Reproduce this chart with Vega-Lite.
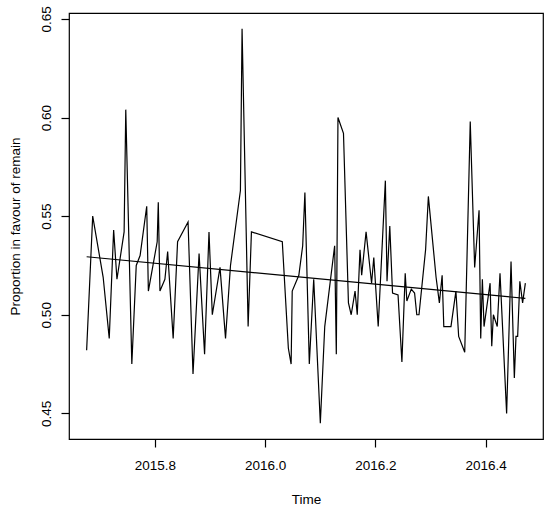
{
  "$schema": "https://vega.github.io/schema/vega-lite/v6.json",
  "width": 474,
  "height": 426,
  "autosize": {"type": "none"},
  "padding": {"left": 69, "top": 13, "right": 7, "bottom": 68},
  "background": "white",
  "config": {
    "font": "Liberation Sans",
    "view": {"stroke": "black", "strokeWidth": 1.2},
    "axis": {
      "grid": false,
      "domain": false,
      "tickColor": "black",
      "tickSize": 8,
      "tickWidth": 1.2,
      "labelColor": "black",
      "labelFontSize": 13.5,
      "labelFont": "Liberation Sans",
      "titleColor": "black",
      "titleFontSize": 13.5,
      "titleFontWeight": "normal",
      "titleFont": "Liberation Sans"
    }
  },
  "datasets": {
    "polls": [
      {"time": 2015.676, "share": 0.482},
      {"time": 2015.687, "share": 0.550},
      {"time": 2015.706, "share": 0.519},
      {"time": 2015.717, "share": 0.488},
      {"time": 2015.725, "share": 0.543},
      {"time": 2015.731, "share": 0.518},
      {"time": 2015.744, "share": 0.542},
      {"time": 2015.747, "share": 0.604},
      {"time": 2015.758, "share": 0.475},
      {"time": 2015.766, "share": 0.525},
      {"time": 2015.773, "share": 0.530},
      {"time": 2015.785, "share": 0.555},
      {"time": 2015.788, "share": 0.512},
      {"time": 2015.804, "share": 0.537},
      {"time": 2015.806, "share": 0.557},
      {"time": 2015.809, "share": 0.512},
      {"time": 2015.818, "share": 0.518},
      {"time": 2015.823, "share": 0.532},
      {"time": 2015.833, "share": 0.488},
      {"time": 2015.841, "share": 0.537},
      {"time": 2015.860, "share": 0.547},
      {"time": 2015.869, "share": 0.470},
      {"time": 2015.880, "share": 0.531},
      {"time": 2015.890, "share": 0.480},
      {"time": 2015.898, "share": 0.542},
      {"time": 2015.904, "share": 0.500},
      {"time": 2015.918, "share": 0.524},
      {"time": 2015.928, "share": 0.488},
      {"time": 2015.937, "share": 0.525},
      {"time": 2015.955, "share": 0.563},
      {"time": 2015.958, "share": 0.645},
      {"time": 2015.969, "share": 0.494},
      {"time": 2015.975, "share": 0.542},
      {"time": 2016.031, "share": 0.537},
      {"time": 2016.042, "share": 0.483},
      {"time": 2016.047, "share": 0.475},
      {"time": 2016.049, "share": 0.512},
      {"time": 2016.061, "share": 0.520},
      {"time": 2016.068, "share": 0.535},
      {"time": 2016.072, "share": 0.562},
      {"time": 2016.080, "share": 0.475},
      {"time": 2016.088, "share": 0.518},
      {"time": 2016.100, "share": 0.445},
      {"time": 2016.108, "share": 0.494},
      {"time": 2016.126, "share": 0.535},
      {"time": 2016.129, "share": 0.480},
      {"time": 2016.132, "share": 0.600},
      {"time": 2016.142, "share": 0.592},
      {"time": 2016.151, "share": 0.506},
      {"time": 2016.156, "share": 0.500},
      {"time": 2016.163, "share": 0.512},
      {"time": 2016.167, "share": 0.500},
      {"time": 2016.172, "share": 0.533},
      {"time": 2016.175, "share": 0.520},
      {"time": 2016.183, "share": 0.542},
      {"time": 2016.193, "share": 0.516},
      {"time": 2016.197, "share": 0.529},
      {"time": 2016.205, "share": 0.494},
      {"time": 2016.218, "share": 0.568},
      {"time": 2016.221, "share": 0.517},
      {"time": 2016.226, "share": 0.545},
      {"time": 2016.231, "share": 0.511},
      {"time": 2016.241, "share": 0.510},
      {"time": 2016.248, "share": 0.476},
      {"time": 2016.254, "share": 0.521},
      {"time": 2016.257, "share": 0.507},
      {"time": 2016.265, "share": 0.513},
      {"time": 2016.271, "share": 0.511},
      {"time": 2016.275, "share": 0.500},
      {"time": 2016.279, "share": 0.500},
      {"time": 2016.291, "share": 0.533},
      {"time": 2016.296, "share": 0.560},
      {"time": 2016.310, "share": 0.519},
      {"time": 2016.316, "share": 0.506},
      {"time": 2016.321, "share": 0.520},
      {"time": 2016.324, "share": 0.494},
      {"time": 2016.337, "share": 0.494},
      {"time": 2016.346, "share": 0.512},
      {"time": 2016.351, "share": 0.489},
      {"time": 2016.362, "share": 0.481},
      {"time": 2016.372, "share": 0.598},
      {"time": 2016.380, "share": 0.524},
      {"time": 2016.388, "share": 0.553},
      {"time": 2016.391, "share": 0.488},
      {"time": 2016.394, "share": 0.518},
      {"time": 2016.397, "share": 0.494},
      {"time": 2016.408, "share": 0.516},
      {"time": 2016.411, "share": 0.484},
      {"time": 2016.414, "share": 0.500},
      {"time": 2016.421, "share": 0.494},
      {"time": 2016.426, "share": 0.521},
      {"time": 2016.438, "share": 0.450},
      {"time": 2016.446, "share": 0.527},
      {"time": 2016.452, "share": 0.468},
      {"time": 2016.455, "share": 0.489},
      {"time": 2016.458, "share": 0.489},
      {"time": 2016.462, "share": 0.517},
      {"time": 2016.467, "share": 0.506},
      {"time": 2016.472, "share": 0.516}
    ],
    "trend": [
      {"time": 2015.676, "share": 0.5294},
      {"time": 2016.472, "share": 0.5083}
    ]
  },
  "encoding": {
    "x": {
      "field": "time",
      "type": "quantitative",
      "scale": {"domain": [2015.644, 2016.504], "nice": false, "zero": false},
      "axis": {
        "values": [2015.8, 2016.0, 2016.2, 2016.4],
        "format": ".1f",
        "labelBaseline": "alphabetic",
        "labelPadding": 22,
        "title": "Time",
        "titleBaseline": "alphabetic",
        "titleY": 64
      }
    },
    "y": {
      "field": "share",
      "type": "quantitative",
      "scale": {"domain": [0.437, 0.653], "nice": false, "zero": false},
      "axis": {
        "values": [0.45, 0.5, 0.55, 0.6, 0.65],
        "format": ".2f",
        "labelAngle": 270,
        "labelAlign": "center",
        "labelBaseline": "alphabetic",
        "labelPadding": 11,
        "title": "Proportion in favour of remain",
        "titleAngle": 270,
        "titleBaseline": "alphabetic",
        "titleX": -50
      }
    }
  },
  "layer": [
    {
      "data": {"name": "polls"},
      "mark": {"type": "line", "color": "black", "strokeWidth": 1.2}
    },
    {
      "data": {"name": "trend"},
      "mark": {"type": "line", "color": "black", "strokeWidth": 1.2}
    }
  ]
}
